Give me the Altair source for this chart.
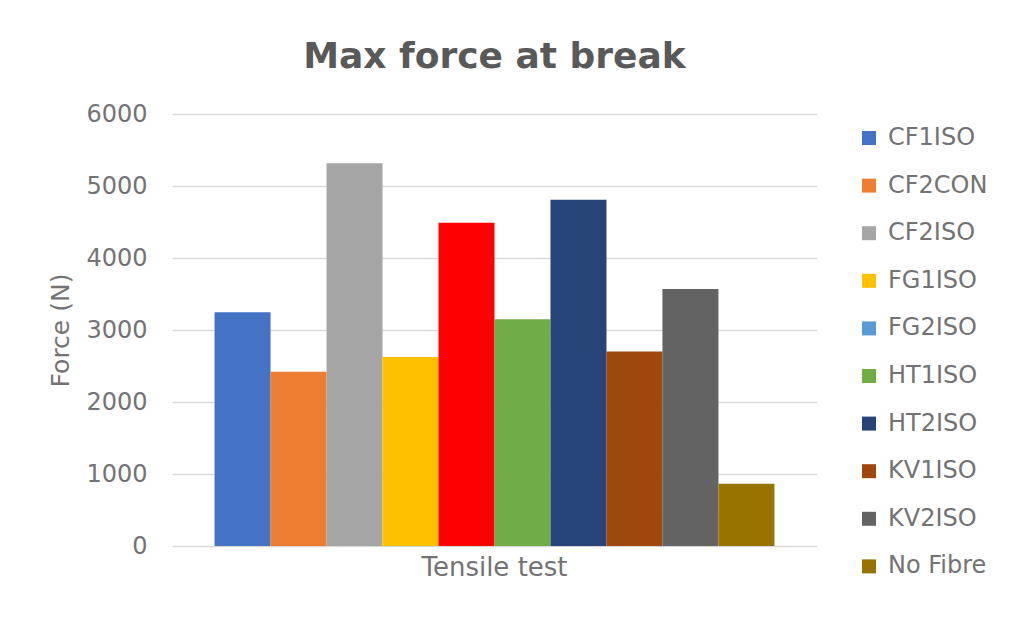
import altair as alt
import pandas as pd

series = ["CF1ISO", "CF2CON", "CF2ISO", "FG1ISO", "FG2ISO",
          "HT1ISO", "HT2ISO", "KV1ISO", "KV2ISO", "No Fibre"]
force = [3245, 2420, 5315, 2625, 4490, 3150, 4810, 2700, 3570, 865]
test = ["Tensile test"] * len(series)
y_ticks = [0, 1000, 2000, 3000, 4000, 5000, 6000]
legend_colors = ["#4472C4", "#ED7D31", "#A5A5A5", "#FFC000", "#5B9BD5",
                 "#70AD47", "#264478", "#9E480E", "#636363", "#997300"]
fg2iso_bar_color = "#FF0000"

df = pd.DataFrame({"test": test, "series": series, "force": force})

FONT = "DejaVu Sans"
TXT = "#737373"

chart = alt.Chart(df).mark_bar().encode(
    x=alt.X("test:N", title=None,
            scale=alt.Scale(paddingInner=0, paddingOuter=0.076),
            axis=alt.Axis(labelAngle=0, ticks=False, domain=False,
                          labelFontSize=26, labelColor=TXT, labelFont=FONT,
                          labelPadding=8)),
    xOffset=alt.XOffset("series:N", sort=series,
                        scale=alt.Scale(paddingInner=0, paddingOuter=0)),
    y=alt.Y("force:Q", title="Force (N)",
            scale=alt.Scale(domain=[0, 6000]),
            axis=alt.Axis(values=y_ticks, format="d",
                          ticks=False, domain=False, grid=True,
                          gridColor="#D9D9D9", gridWidth=1.5,
                          labelFontSize=24, labelColor=TXT, labelFont=FONT,
                          labelPadding=25, titleFontSize=25, titleColor=TXT,
                          titleFont=FONT, titleFontWeight="normal",
                          titlePadding=12)),
    color=alt.condition(
        alt.datum.series == "FG2ISO",
        alt.value(fg2iso_bar_color),
        alt.Color("series:N", sort=series,
                  scale=alt.Scale(domain=series, range=legend_colors),
                  legend=alt.Legend(title=None, orient="none",
                                    legendX=685, legendY=12,
                                    symbolType="square", symbolSize=196,
                                    symbolStrokeWidth=0,
                                    labelFontSize=24, labelColor=TXT,
                                    labelFont=FONT, labelOffset=7,
                                    rowPadding=23.6, padding=0))
    ),
).properties(
    width=645,
    height=432,
    title=alt.Title("Max force at break", fontSize=36, font=FONT,
                    fontWeight="bold", color="#595959", offset=26,
                    anchor="middle"),
    padding={"left": 40, "top": 31, "right": 5, "bottom": 5},
).configure_view(stroke=None)

chart.save("out.html", embed_options={"renderer": "svg", "actions": False})
